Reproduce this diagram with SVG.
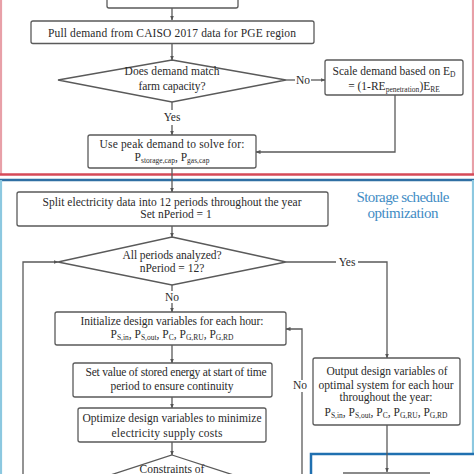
<svg xmlns="http://www.w3.org/2000/svg" width="474" height="474" viewBox="0 0 474 474">
<style>
.box{fill:#fff;stroke:#5a5a5a;stroke-width:1.3}
.ln{fill:none;stroke:#5a5a5a;stroke-width:1.3}
.t{font-family:'Liberation Serif','Times New Roman',serif;font-size:11.5px;fill:#2a2a2a;text-anchor:middle}
.s{font-size:7.5px}
.blue{font-family:'Liberation Serif','Times New Roman',serif;font-size:15px;fill:#3f8cc4;text-anchor:middle}
</style>
<defs>
<marker id="ah" viewBox="0 0 10 10" refX="9" refY="5" markerWidth="5" markerHeight="5" orient="auto" markerUnits="userSpaceOnUse">
<path d="M0,1 L10,5 L0,9 z" fill="#555"/>
</marker>
</defs>
<rect width="474" height="474" fill="#fff"/>
<g id="frames">
<line x1="1" y1="0" x2="1" y2="175" stroke="#e8a0a8" stroke-width="2.2"/>
<line x1="473" y1="0" x2="473" y2="175" stroke="#e8a0a8" stroke-width="2.2"/>
<line x1="0" y1="174.5" x2="474" y2="174.5" stroke="#d64a58" stroke-width="2.5"/>
<line x1="0" y1="180" x2="474" y2="180" stroke="#2f6fa3" stroke-width="2.5"/>
<line x1="1" y1="180" x2="1" y2="474" stroke="#8cc8e0" stroke-width="2.2"/>
<line x1="473" y1="180" x2="473" y2="454" stroke="#8cc8e0" stroke-width="2.2"/>
<path d="M311,475 V454 H475" fill="none" stroke="#2070b0" stroke-width="2.5"/>
</g>
<g id="connectors">
<line class="ln" x1="172" y1="8" x2="172" y2="20" marker-end="url(#ah)"/>
<line class="ln" x1="172" y1="43" x2="172" y2="60" marker-end="url(#ah)"/>
<line class="ln" x1="286" y1="80" x2="295" y2="80"/>
<line class="ln" x1="311" y1="80" x2="325" y2="80" marker-end="url(#ah)"/>
<polyline class="ln" points="395,95 395,152 256,152" marker-end="url(#ah)"/>
<line class="ln" x1="172" y1="102" x2="172" y2="110"/>
<line class="ln" x1="172" y1="125" x2="172" y2="135" marker-end="url(#ah)"/>
<line class="ln" x1="172" y1="168" x2="172" y2="192" marker-end="url(#ah)"/>
<line class="ln" x1="172" y1="226" x2="172" y2="237" marker-end="url(#ah)"/>
<polyline class="ln" points="286,262 336,262"/>
<polyline class="ln" points="358,262 387,262 387,358" marker-end="url(#ah)"/>
<line class="ln" x1="172" y1="285" x2="172" y2="291"/>
<line class="ln" x1="172" y1="303" x2="172" y2="312" marker-end="url(#ah)"/>
<polyline class="ln" points="23,474 23,262 58,262" marker-end="url(#ah)"/>
<line class="ln" x1="172" y1="345" x2="172" y2="363" marker-end="url(#ah)"/>
<line class="ln" x1="172" y1="397" x2="172" y2="408" marker-end="url(#ah)"/>
<line class="ln" x1="172" y1="442" x2="172" y2="455" marker-end="url(#ah)"/>
<polyline class="ln" points="302,474 302,392"/>
<polyline class="ln" points="302,380 302,329 286,329" marker-end="url(#ah)"/>
<line class="ln" x1="387" y1="425" x2="387" y2="472" marker-end="url(#ah)"/>
</g>
<g id="labels">
<text class="t" x="303" y="84">No</text>
<text class="t" x="172" y="121">Yes</text>
<text class="t" x="347" y="266">Yes</text>
<text class="t" x="172" y="301">No</text>
<text class="t" x="300" y="389">No</text>
</g>
<g id="n0"><rect class="box" x="107" y="-10" width="131" height="18" rx="2"/></g>
<g id="n1"><rect class="box" x="31" y="21" width="283" height="22.5" rx="2"/>
<text class="t" x="172" y="36.5" textLength="248">Pull demand from CAISO 2017 data for PGE region</text></g>
<g id="n2"><polygon class="box" points="172,60 286,80 172,102 58,80"/>
<text class="t" x="172" y="75" textLength="95">Does demand match</text>
<text class="t" x="172" y="89.5" textLength="67">farm capacity?</text></g>
<g id="n3"><rect class="box" x="325" y="60" width="138" height="35" rx="2"/>
<text class="t" x="394" y="75">Scale demand based on E<tspan class="s" dy="2">D</tspan></text>
<text class="t" x="394" y="89.5">= (1-RE<tspan class="s" dy="2">penetration</tspan><tspan dy="-2">)E</tspan><tspan class="s" dy="2">RE</tspan></text></g>
<g id="n4"><rect class="box" x="88" y="135" width="168" height="33" rx="2"/>
<text class="t" x="172" y="147.5" textLength="145">Use peak demand to solve for:</text>
<text class="t" x="172" y="161">P<tspan class="s" dy="2">storage,cap</tspan><tspan dy="-2">, P</tspan><tspan class="s" dy="2">gas,cap</tspan></text></g>
<g id="n5"><rect class="box" x="17" y="192" width="311" height="34" rx="2"/>
<text class="t" x="172" y="205.5" textLength="259">Split electricity data into 12 periods throughout the year</text>
<text class="t" x="176" y="218">Set nPeriod = 1</text></g>
<g id="title"><text class="blue" x="403" y="202" textLength="93">Storage schedule</text>
<text class="blue" x="403" y="218" textLength="71">optimization</text></g>
<g id="n6"><polygon class="box" points="172,237 286,262 172,285 58,262"/>
<text class="t" x="172" y="259" textLength="99">All periods analyzed?</text>
<text class="t" x="172" y="271.5">nPeriod = 12?</text></g>
<g id="n7"><rect class="box" x="55" y="312" width="231" height="33" rx="2"/>
<text class="t" x="172" y="324.5" textLength="183">Initialize design variables for each hour:</text>
<text class="t" x="172" y="338">P<tspan class="s" dy="2">S,in</tspan><tspan dy="-2">, P</tspan><tspan class="s" dy="2">S,out</tspan><tspan dy="-2">, P</tspan><tspan class="s" dy="2">C</tspan><tspan dy="-2">, P</tspan><tspan class="s" dy="2">G,RU</tspan><tspan dy="-2">, P</tspan><tspan class="s" dy="2">G,RD</tspan></text></g>
<g id="n8"><rect class="box" x="73" y="363" width="199" height="34" rx="2"/>
<text class="t" x="176" y="376" textLength="181">Set value of stored energy at start of time</text>
<text class="t" x="172" y="389.5" textLength="123">period to ensure continuity</text></g>
<g id="n9"><rect class="box" x="313" y="358" width="147" height="67" rx="2"/>
<text class="t" x="387" y="375" textLength="121">Output design variables of</text>
<text class="t" x="386" y="388.5" textLength="135">optimal system for each hour</text>
<text class="t" x="386" y="401" textLength="93">throughout the year:</text>
<text class="t" x="386" y="415.5">P<tspan class="s" dy="2">S,in</tspan><tspan dy="-2">, P</tspan><tspan class="s" dy="2">S,out</tspan><tspan dy="-2">, P</tspan><tspan class="s" dy="2">C</tspan><tspan dy="-2">, P</tspan><tspan class="s" dy="2">G,RU</tspan><tspan dy="-2">, P</tspan><tspan class="s" dy="2">G,RD</tspan></text></g>
<g id="n10"><rect class="box" x="78" y="408" width="188" height="34" rx="2"/>
<text class="t" x="172" y="422" textLength="179">Optimize design variables to minimize</text>
<text class="t" x="167" y="436.5" textLength="111">electricity supply costs</text></g>
<g id="n11"><polygon class="box" points="172,455 252,481 172,507 92,481"/>
<text class="t" x="172" y="472.5">Constraints of</text></g>
<g id="n12"><rect x="343" y="472" width="87" height="10" fill="#8a8a8a"/></g>
</svg>
